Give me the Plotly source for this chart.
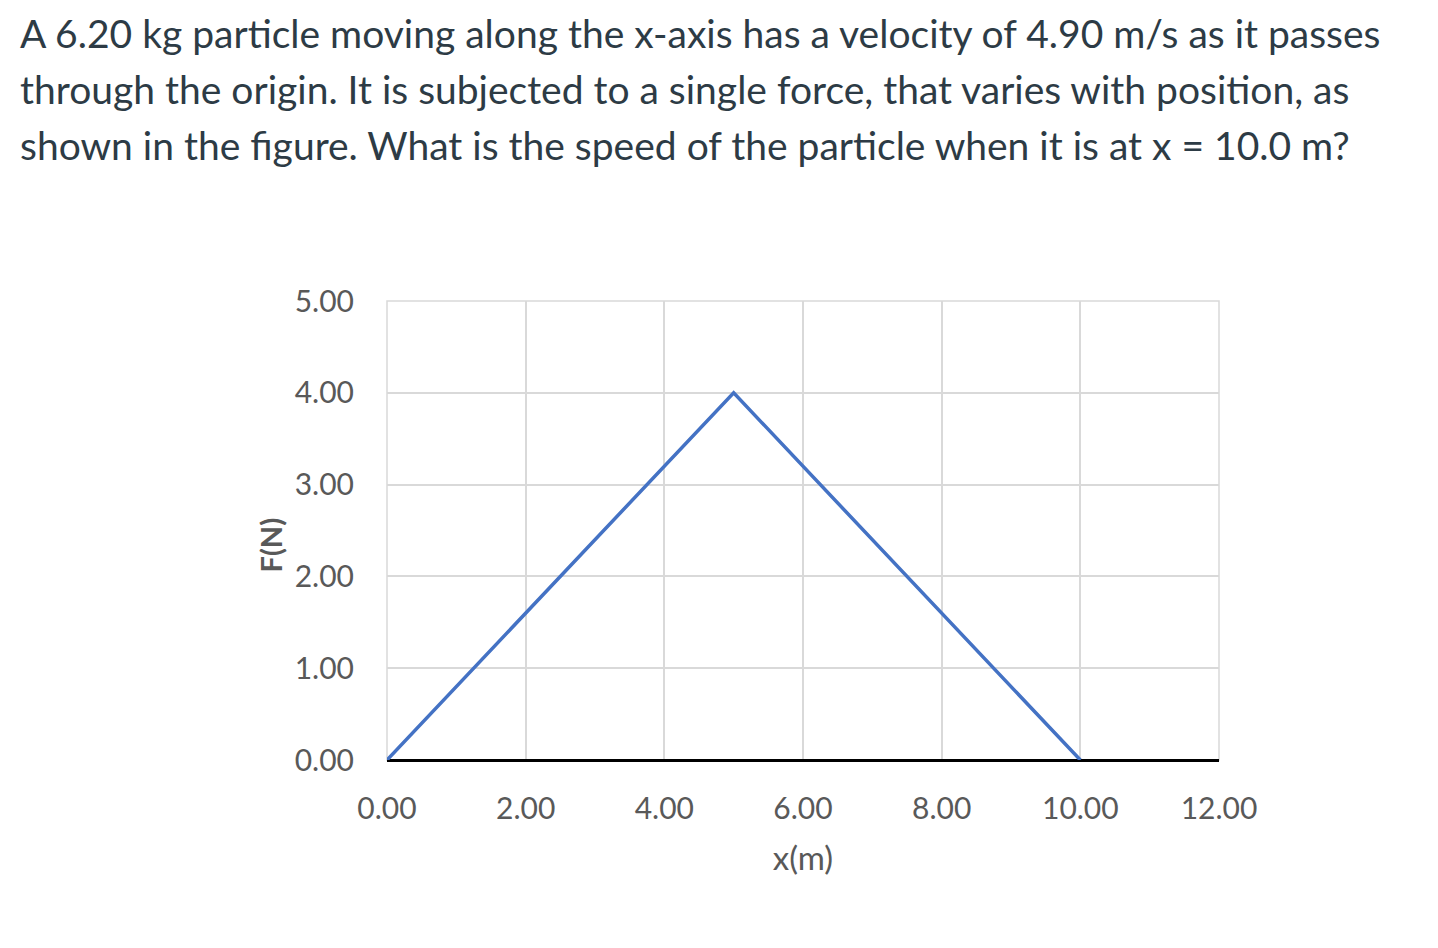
import plotly.graph_objects as go

x_pos = [0, 5, 10]
force = [0, 4, 0]
x_ticks = [0, 2, 4, 6, 8, 10, 12]
y_ticks = [0, 1, 2, 3, 4, 5]

question = [
    "A 6.20 kg particle moving along the x-axis has a velocity of 4.90 m/s as it passes",
    "through the origin. It is subjected to a single force, that varies with position, as",
    "shown in the figure. What is the speed of the particle when it is at x = 10.0 m?",
]

fig = go.Figure(go.Scatter(x=x_pos, y=force, mode="lines",
                           line=dict(color="#4472C4", width=3.5)))

gray = "#595959"
L, T = 379, 293
fig.update_xaxes(range=[0, 12], tickvals=x_ticks, ticktext=[f"{v:.2f}" for v in x_ticks],
                 showgrid=True, gridcolor="#d9d9d9", gridwidth=1.5, zeroline=False,
                 showline=False, tickfont=dict(size=30, color=gray, family="Lato"),
                 ticklabelstandoff=28,
                 title=dict(text="x(m)", font=dict(size=33, color=gray, family="Lato"), standoff=22))
fig.update_yaxes(range=[0, 5], tickvals=y_ticks, ticktext=[f"{v:.2f}" for v in y_ticks],
                 showgrid=True, gridcolor="#d9d9d9", gridwidth=1.5, zeroline=True,
                 zerolinecolor="black", zerolinewidth=2.5, showline=False,
                 tickfont=dict(size=30, color=gray, family="Lato"), ticklabelstandoff=32)

anns = []
for i, line in enumerate(question):
    anns.append(dict(text=line, xref="paper", yref="paper", x=(10 - L) / 832,
                     y=(752 - (25 + 56 * i)) / 459, xanchor="left", yanchor="middle",
                     showarrow=False, font=dict(size=39, color="#2d3b45", family="Lato")))
anns.append(dict(text="<b>F(N)</b>", xref="paper", yref="paper", x=(242 - L) / 832,
                 y=(752 - 537) / 459, textangle=-90, showarrow=False,
                 font=dict(size=29, color=gray, family="Lato")))

fig.update_layout(width=1438, height=948, margin=dict(l=L, r=1438 - L - 832, t=T, b=948 - T - 459),
                  plot_bgcolor="white", paper_bgcolor="white", showlegend=False,
                  annotations=anns)
fig.add_shape(type="rect", xref="paper", yref="paper", x0=0, y0=0, x1=1, y1=1,
              line=dict(color="#d9d9d9", width=1.5), layer="below")

fig.write_html("out.html")
